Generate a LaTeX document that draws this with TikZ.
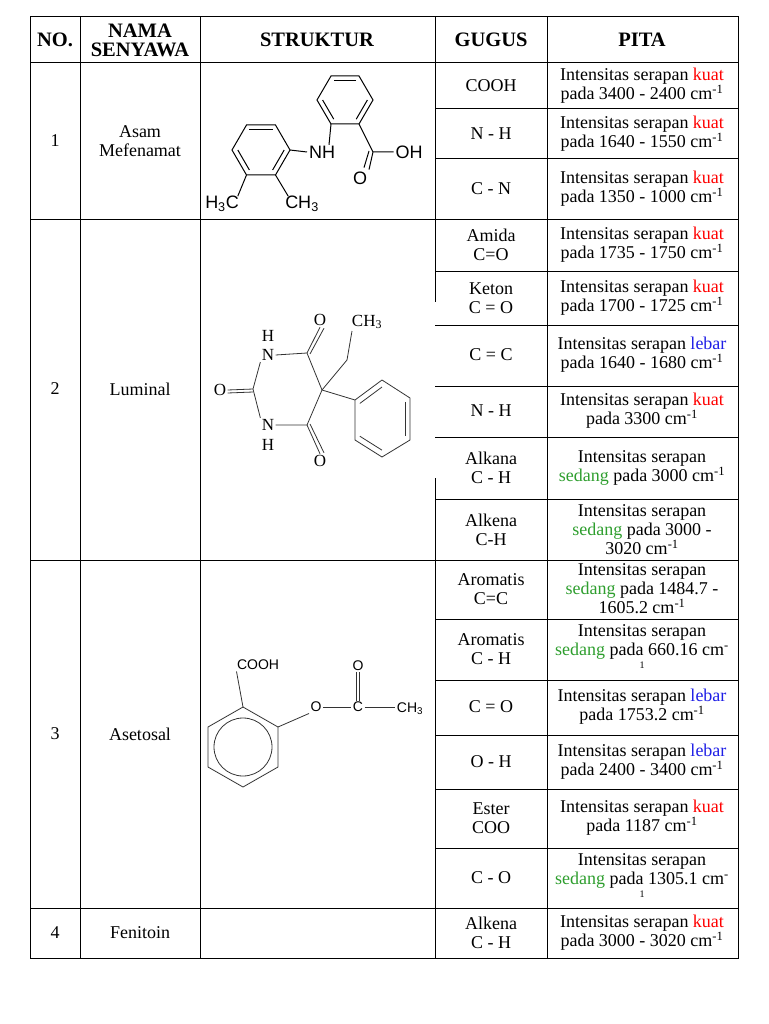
\documentclass[tikz,border=0pt]{standalone}
\usepackage{fontspec}
\usetikzlibrary{calc}
\setmainfont{Liberation Serif}
\newfontfamily\chemsans{Liberation Sans}
\definecolor{kred}{HTML}{FF0000}
\definecolor{lblue}{HTML}{1F1FE6}
\definecolor{sgreen}{HTML}{2E9E2E}
\newcommand{\kuat}{\textcolor{kred}{kuat}}
\newcommand{\lebar}{\textcolor{lblue}{lebar}}
\newcommand{\sedang}{\textcolor{sgreen}{sedang}}
\newcommand{\cmi}{cm\textsuperscript{-1}}
\begin{document}
\begin{tikzpicture}[x=1pt,y=-1pt,line width=1pt,
 cell/.style={align=center,font=\fontsize{18}{19}\selectfont,inner sep=0pt},
 hd/.style={align=center,font=\fontsize{20.5}{19}\selectfont\bfseries,inner sep=0pt},
 ch/.style={font=\chemsans\fontsize{18}{18}\selectfont,inner sep=1.5pt},
 cha/.style={font=\chemsans\fontsize{14}{14}\selectfont,inner sep=1pt},
 cs/.style={font=\fontsize{17}{17}\selectfont,inner sep=1pt},
 bond/.style={line width=1pt},
 lbond/.style={line width=0.8pt,black!80}]
\useasboundingbox (0,0) rectangle (768,1024);
% grid
\draw (30,17) rectangle (738,958);
\foreach \x in {80,200,547} \draw (\x,17) -- (\x,958);
\draw (435,17) -- (435,302); \draw (435,478) -- (435,958);
\foreach \y in {63,220,560,908} \draw (30,\y) -- (738,\y);
\foreach \y in {109,159,271,325,386,437,499,619,680,735,789,848} \draw (435,\y) -- (738,\y);
% header
\node[hd] (h1) at (55,40) {NO.};
\node[hd] (h2) at (140,40) {NAMA\\SENYAWA};
\node[hd] (h3) at (317,40) {STRUKTUR};
\node[hd] (h4) at (491,40) {GUGUS};
\node[hd] (h5) at (642,40) {PITA};
% row 1
\node[cell] (n1) at (55,141) {1};
\node[cell] (s1) at (140,141) {Asam\\Mefenamat};
\node[cell] (g11) at (491,86) {COOH};
\node[cell] (g12) at (491,134) {N - H};
\node[cell] (g13) at (491,189) {C - N};
\node[cell] (p11) at (642,86) {Intensitas serapan \kuat\\pada 3400 - 2400 \cmi};
\node[cell] (p12) at (642,134) {Intensitas serapan \kuat\\pada 1640 - 1550 \cmi};
\node[cell] (p13) at (642,189) {Intensitas serapan \kuat\\pada 1350 - 1000 \cmi};
% row 2
\node[cell] (n2) at (55,389) {2};
\node[cell] (s2) at (140,389) {Luminal};
\node[cell] (g21) at (491,245) {Amida\\C=O};
\node[cell] (g22) at (491,298) {Keton\\C = O};
\node[cell] (g23) at (491,355) {C = C};
\node[cell] (g24) at (491,411) {N - H};
\node[cell] (g25) at (491,468) {Alkana\\C - H};
\node[cell] (g26) at (491,530) {Alkena\\C-H};
\node[cell] (p21) at (642,245) {Intensitas serapan \kuat\\pada 1735 - 1750 \cmi};
\node[cell] (p22) at (642,298) {Intensitas serapan \kuat\\pada 1700 - 1725 \cmi};
\node[cell] (p23) at (642,355) {Intensitas serapan \lebar\\pada 1640 - 1680 \cmi};
\node[cell] (p24) at (642,411) {Intensitas serapan \kuat\\pada 3300 \cmi};
\node[cell] (p25) at (642,468) {Intensitas serapan\\\sedang{}  pada 3000 \cmi};
\node[cell] (p26) at (642,530) {Intensitas serapan\\\sedang{}  pada 3000 -\\3020 \cmi};
% row 3
\node[cell] (n3) at (55,734) {3};
\node[cell] (s3) at (140,734) {Asetosal};
\node[cell] (g31) at (491,589) {Aromatis\\C=C};
\node[cell] (g32) at (491,649) {Aromatis\\C - H};
\node[cell] (g33) at (491,707) {C = O};
\node[cell] (g34) at (491,762) {O - H};
\node[cell] (g35) at (491,818) {Ester\\COO};
\node[cell] (g36) at (491,878) {C - O};
\node[cell] (p31) at (642,589) {Intensitas serapan\\\sedang{} pada 1484.7 -\\1605.2 \cmi};
\node[cell] (p32) at (642,647) {Intensitas serapan\\\sedang{} pada 660.16 cm\textsuperscript{-}\\[-6pt]{\fontsize{10}{10}\selectfont 1}};
\node[cell] (p33) at (642,707) {Intensitas serapan \lebar\\pada 1753.2 \cmi};
\node[cell] (p34) at (642,762) {Intensitas serapan \lebar\\pada 2400 - 3400 \cmi};
\node[cell] (p35) at (642,818) {Intensitas serapan \kuat\\pada 1187 \cmi};
\node[cell] (p36) at (642,876) {Intensitas serapan\\\sedang{} pada 1305.1 cm\textsuperscript{-}\\[-6pt]{\fontsize{10}{10}\selectfont 1}};
% row 4
\node[cell] (n4) at (55,933) {4};
\node[cell] (s4) at (140,933) {Fenitoin};
\node[cell] (g41) at (491,933) {Alkena\\C - H};
\node[cell] (p41) at (642,933) {Intensitas serapan \kuat\\pada 3000 - 3020 \cmi};
% ---- mefenamic acid
\coordinate (mc1) at (261,150);
\coordinate (a1) at (290,150); \coordinate (a2) at (275.5,125); \coordinate (a3) at (246.5,125);
\coordinate (a4) at (232,150); \coordinate (a5) at (246.5,175); \coordinate (a6) at (275.5,175);
\draw[bond] (a1)--(a2)--(a3)--(a4)--(a5)--(a6)--cycle;
\foreach \p/\q in {a2/a3,a4/a5,a6/a1} \draw[bond] ($(mc1)!.8!(\p)$) -- ($(mc1)!.8!(\q)$);
\coordinate (mc2) at (345,100);
\coordinate (b1) at (373,100); \coordinate (b2) at (359,76); \coordinate (b3) at (331,76);
\coordinate (b4) at (317,100); \coordinate (b5) at (331,124); \coordinate (b6) at (359,124);
\draw[bond] (b1)--(b2)--(b3)--(b4)--(b5)--(b6)--cycle;
\foreach \p/\q in {b2/b3,b4/b5,b6/b1} \draw[bond] ($(mc2)!.8!(\p)$) -- ($(mc2)!.8!(\q)$);
\node[ch] (nh) at (322,152) {NH};
\node[ch] (oh) at (409,152) {OH};
\node[ch] (o1) at (360,178) {O};
\node[ch] (me1) at (222,204) {H\textsubscript{3}C};
\node[ch] (me2) at (302,204) {CH\textsubscript{3}};
\coordinate (cc) at (373,152);
\draw[bond] (a1) -- (nh.west);
\draw[bond] (nh.north east) ++(-8,1) -- (b5);
\draw[bond] (b6) -- (cc) -- (oh.west);
\draw[bond] (cc) -- (o1.north east);
\draw[bond] ($(cc)+(-4,-1)$) -- ($(o1.north east)+(-5,-2)$);
\draw[bond] (a5) -- ($(me1.north east)+(-3,2)$);
\draw[bond] (a6) -- ($(me2.north west)+(5,2)$);
% ---- luminal
\node[cs] (ln1) at (268,355) {N};
\node[cs] (lh1) at (268,336) {H};
\node[cs] (ln3) at (268,425) {N};
\node[cs] (lh3) at (268,445) {H};
\node[cs] (lo1) at (320,320) {O};
\node[cs] (lo2) at (220,390) {O};
\node[cs] (lo3) at (320,461) {O};
\node[cs] (lme) at (367,322) {CH\textsubscript{3}};
\coordinate (lc6) at (307,353); \coordinate (lq) at (322,390);
\coordinate (lc4) at (307,425); \coordinate (lc2) at (253,389);
\coordinate (le1) at (347,360); \coordinate (le2) at (352,331);
\draw[lbond] (ln1.east) -- (lc6) -- (lq) -- (lc4) -- (ln3.east);
\draw[lbond] (ln3.north west) -- (lc2) -- (ln1.south west);
\draw[lbond] (lc6) -- (lo1.south); \draw[lbond] ($(lc6)+(3,1)$) -- ($(lo1.south)+(4,1)$);
\draw[lbond] (lc4) -- (lo3.north); \draw[lbond] ($(lc4)+(3,-1)$) -- ($(lo3.north)+(4,-1)$);
\draw[lbond] (lc2) -- (lo2.east); \draw[lbond] ($(lc2)+(0,3)$) -- ($(lo2.east)+(0,3)$);
\draw[lbond] (lq) -- (le1) -- (le2);
\coordinate (lpc) at (382,419);
\coordinate (p1) at (355,400); \coordinate (p2) at (382,380); \coordinate (p3) at (410,398);
\coordinate (p4) at (410,440); \coordinate (p5) at (382,457); \coordinate (p6) at (355,440);
\draw[lbond] (lq) -- (p1);
\draw[lbond] (p1)--(p2)--(p3)--(p4)--(p5)--(p6)--cycle;
\foreach \p/\q in {p1/p2,p3/p4,p5/p6} \draw[lbond] ($(lpc)!.82!(\p)$) -- ($(lpc)!.82!(\q)$);
% ---- asetosal
\coordinate (ac) at (243,747);
\coordinate (r1) at (243,707); \coordinate (r2) at (278,727); \coordinate (r3) at (278,767);
\coordinate (r4) at (243,787); \coordinate (r5) at (208,767); \coordinate (r6) at (208,727);
\draw[lbond] (r1)--(r2)--(r3)--(r4)--(r5)--(r6)--cycle;
\draw[lbond] (ac) circle (29);
\node[cha] (acooh) at (258,665) {COOH};
\node[cha] (ao) at (316,707) {O};
\node[cha] (acc) at (358,707) {C};
\node[cha] (ao2) at (358,666) {O};
\node[cha] (ach3) at (410,709) {CH\textsubscript{3}};
\draw[lbond] (r1) -- ($(acooh.south west)+(1,0)$);
\draw[lbond] (r2) -- (ao.south west);
\draw[lbond] (ao.east) -- (acc.west);
\draw[lbond] (acc.east) -- (ach3.west |- acc.east);
\draw[lbond] ($(acc.north)+(-1.5,0)$) -- ($(ao2.south)+(-1.5,0)$);
\draw[lbond] ($(acc.north)+(1.5,0)$) -- ($(ao2.south)+(1.5,0)$);
\end{tikzpicture}
\end{document}
